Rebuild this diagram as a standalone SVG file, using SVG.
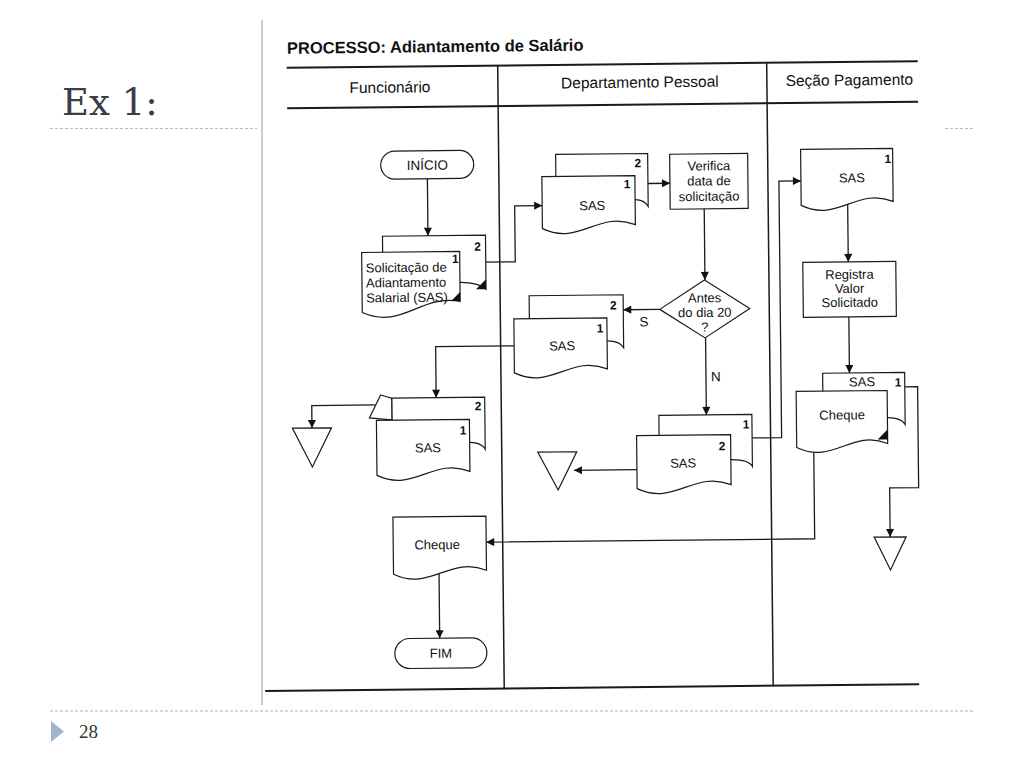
<svg xmlns="http://www.w3.org/2000/svg" width="1024" height="768" viewBox="0 0 1024 768">
<defs>
<marker id="arr" viewBox="0 0 10 10" refX="10" refY="5" markerWidth="9" markerHeight="8" orient="auto" markerUnits="userSpaceOnUse">
<path d="M0,0 L10,5 L0,10 z" fill="#111"/>
</marker>
<style>
.ln{fill:none;stroke:#1a1a1a;stroke-width:1.3}
.lane{fill:none;stroke:#1a1a1a;stroke-width:1.5}
.hdr{fill:none;stroke:#1a1a1a;stroke-width:2}
.sh{fill:#fff;stroke:#1a1a1a;stroke-width:1.2}
.bk{fill:#111;stroke:none}
.t{font-family:"Liberation Sans",Arial,sans-serif;font-size:13px;fill:#111;text-anchor:middle}
.tl{font-family:"Liberation Sans",Arial,sans-serif;font-size:13px;fill:#111}
.n{font-family:"Liberation Sans",Arial,sans-serif;font-size:12px;font-weight:bold;fill:#111;text-anchor:middle}
.h{font-family:"Liberation Sans",Arial,sans-serif;font-size:15.5px;fill:#111;text-anchor:middle}
.dash{stroke:#a9bccd;stroke-width:1;stroke-dasharray:3 2;fill:none}
.dash2{stroke:#b0b0b0;stroke-width:1;stroke-dasharray:3 2;fill:none}
</style>
</defs>
<rect width="1024" height="768" fill="#fff"/>
<g id="slide">
<text x="62" y="115" font-family="DejaVu Serif, serif" font-size="37" fill="#3c3c4a">Ex 1:</text>
<line class="dash" x1="50" y1="128.5" x2="257" y2="128.5"/>
<line class="dash" x1="945" y1="128.5" x2="975" y2="128.5"/>
<line class="dash2" x1="50" y1="711" x2="975" y2="711"/>
<polygon points="51,721 64,731.5 51,742" fill="#9fb6cc"/>
<text x="79" y="737.5" font-family="Liberation Serif, serif" font-size="19" fill="#333">28</text>
<line x1="262" y1="20" x2="262" y2="705" stroke="#999" stroke-width="1"/>
</g>
<g transform="rotate(-0.6 600 380)">
<g id="frame">
<text x="290.5" y="50.5" font-family="Liberation Sans, Arial, sans-serif" font-size="16.5" font-weight="bold" fill="#111">PROCESSO: Adiantamento de Salário</text>
<line class="hdr" x1="290" y1="64.5" x2="921" y2="64.5"/>
<line class="hdr" x1="290" y1="105" x2="921" y2="105"/>
<line class="hdr" x1="262" y1="687.5" x2="916" y2="687.5"/>
<line class="lane" x1="501" y1="64.5" x2="501" y2="687.5"/>
<line class="lane" x1="770" y1="64.5" x2="770" y2="687.5"/>
<text class="h" x="393" y="90.5">Funcionário</text>
<text class="h" x="643" y="88">Departamento Pessoal</text>
<text class="h" x="852.5" y="88">Seção Pagamento</text>
</g>
<g id="connectors">
<path class="ln" d="M429.5,177 V234" marker-end="url(#arr)"/>
<path class="ln" d="M487,261 H516.5 V205 H544" marker-end="url(#arr)"/>
<path class="ln" d="M650,184 H672" marker-end="url(#arr)"/>
<path class="ln" d="M706,210 V281" marker-end="url(#arr)"/>
<path class="ln" d="M660.5,310 H624" marker-end="url(#arr)"/>
<path class="ln" d="M706,339 V416" marker-end="url(#arr)"/>
<path class="ln" d="M514.5,345 H436 V396" marker-end="url(#arr)"/>
<path class="ln" d="M375,402.5 H311.5 V425" marker-end="url(#arr)"/>
<path class="ln" d="M636,470 H573" marker-end="url(#arr)"/>
<path class="ln" d="M751.5,439.5 H781 V183 H803" marker-end="url(#arr)"/>
<path class="ln" d="M849.5,206 V264.5" marker-end="url(#arr)"/>
<path class="ln" d="M849.5,319.5 V375.6" marker-end="url(#arr)"/>
<path class="ln" d="M904.7,390 H917.5 V491 H888.5 V540" marker-end="url(#arr)"/>
<path class="ln" d="M813,452 V541 H484.5" marker-end="url(#arr)"/>
<path class="ln" d="M437,571 V636.5" marker-end="url(#arr)"/>
<text class="tl" x="640" y="327" style="font-size:13.5px">S</text>
<text class="tl" x="711" y="382.5" style="font-size:13.5px">N</text>
</g>
<g id="inicio">
<rect class="sh" x="383" y="149" width="93" height="28" rx="14"/>
<text class="t" x="429.5" y="168" style="font-size:13.5px">INÍCIO</text>
</g>
<g id="doc-solicitacao">
<path class="sh" d="M384,250 V234 H487 V288 Q479,281 461,281"/>
<polygon class="bk" points="477,288 487,278 487,288"/>
<text class="n" x="479" y="249.5">2</text>
<path class="sh" d="M363,250 H461 V300 C421.8,292 402.2,328 363,310 Z"/>
<polygon class="bk" points="452,299.5 461,290.5 461,299.5"/>
<text class="n" x="456.5" y="261.5">1</text>
<text class="tl" x="367" y="270">Solicitação de</text>
<text class="tl" x="367" y="285">Adiantamento</text>
<text class="tl" x="367" y="300">Salarial (SAS)</text>
</g>
<g id="doc-sas-dp1">
<path class="sh" d="M558,176 V154 H650 V207 Q646,200 637,200"/>
<text class="n" x="640" y="167.5">2</text>
<path class="sh" d="M544,176 H637 V225 C599.8,210 581.2,246 544,228 Z"/>
<text class="n" x="629" y="188.5">1</text>
<text class="t" x="594" y="210">SAS</text>
</g>
<g id="verifica">
<rect class="sh" x="672" y="155" width="78" height="55"/>
<text class="t" x="711" y="171.5">Verifica</text>
<text class="t" x="711" y="186.5">data de</text>
<text class="t" x="711" y="202">solicitação</text>
</g>
<g id="decisao">
<polygon class="sh" points="705.5,281 750.5,310 705.5,339 660.5,310"/>
<text class="t" x="705.5" y="303.5">Antes</text>
<text class="t" x="705.5" y="318">do dia 20</text>
<text class="t" x="705.5" y="332.5">?</text>
</g>
<g id="doc-sas-dp2">
<path class="sh" d="M530,318 V295 H624 V348 Q620,341 607.5,341"/>
<text class="n" x="614" y="309.5">2</text>
<path class="sh" d="M514.5,318 H607.5 V369 C570.3,354 551.7,390 514.5,372 Z"/>
<text class="n" x="600.5" y="332.5">1</text>
<text class="t" x="562.5" y="350">SAS</text>
</g>
<g id="doc-sas-func">
<path class="sh" d="M391.5,418 V396 H484.5 V448 Q480.5,441 469,441"/>
<polygon class="sh" points="380.5,392.7 391.5,396 391.5,417.7 369,415.5"/>
<text class="n" x="477.7" y="409">2</text>
<path class="sh" d="M376,418 H469 V470 C431.8,455 413.2,491 376,473 Z"/>
<text class="n" x="462.5" y="433">1</text>
<text class="t" x="427.3" y="450.5">SAS</text>
</g>
<g id="arquivo-func">
<polygon class="sh" points="292,425 331,425 311.5,464"/>
</g>
<g id="doc-sas-dp3">
<path class="sh" d="M658.5,436 V416 H751.5 V468 Q747.5,461 730,461"/>
<text class="n" x="745.5" y="430">1</text>
<path class="sh" d="M636,436 H730 V486 C692.4,471 673.6,507 636,489 Z"/>
<text class="n" x="721.3" y="451.5">2</text>
<text class="t" x="682.3" y="468.5">SAS</text>
</g>
<g id="arquivo-dp">
<polygon class="sh" points="537,451.5 576,451.5 557,489.5"/>
</g>
<g id="doc-sas-sp">
<path class="sh" d="M803,151.5 H895 V204.5 C858.2,189.5 839.8,225.5 803,207.5 Z"/>
<text class="n" x="890" y="166">1</text>
<text class="t" x="854" y="185">SAS</text>
</g>
<g id="registra">
<rect class="sh" x="804" y="264.5" width="93" height="55"/>
<text class="t" x="850.5" y="281.5">Registra</text>
<text class="t" x="850.5" y="295.5">Valor</text>
<text class="t" x="850.5" y="309.5">Solicitado</text>
</g>
<g id="doc-cheque-sp">
<path class="sh" d="M822.7,393.5 V375.6 H904.7 V427.6 Q900.7,420.6 887,420.6"/>
<text class="t" x="862" y="389">SAS</text>
<text class="n" x="898" y="389.5">1</text>
<path class="sh" d="M796,393.5 H887 V446.5 C850.6,431.5 832.4,467.5 796,449.5 Z"/>
<polygon class="bk" points="877,442.5 887,432.5 887,442.5"/>
<text class="t" x="841.7" y="422">Cheque</text>
</g>
<g id="arquivo-sp">
<polygon class="sh" points="872.5,540 904.5,540 888.5,573"/>
</g>
<g id="doc-cheque-func">
<path class="sh" d="M391.5,515 H484.5 V569 C447.3,554 428.7,590 391.5,572 Z"/>
<text class="t" x="435.5" y="547.5">Cheque</text>
</g>
<g id="fim">
<rect class="sh" x="392" y="636.5" width="92" height="30" rx="15"/>
<text class="t" x="438" y="656">FIM</text>
</g>
</g>
</svg>
